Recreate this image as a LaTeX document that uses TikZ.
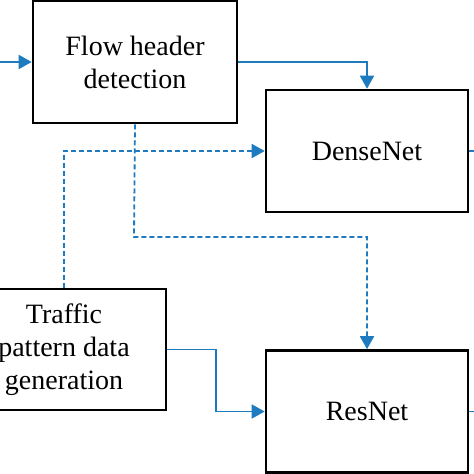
\documentclass[tikz,border=0pt]{standalone}
\usepackage{fontspec}
\setmainfont{Liberation Serif}
\newfontfamily\timesfont{Liberation Serif}
\usetikzlibrary{arrows.meta}
\definecolor{lblue}{HTML}{1F7BC0}
\tikzset{
  blockbox/.style={draw=black, line width=2.6pt, fill=white, align=center,
    font=\timesfont\fontsize{28}{33}\selectfont, inner sep=0pt},
  flowline/.style={draw=lblue, line width=1.8pt, -{Triangle[length=13pt,width=14pt]}},
  plainline/.style={draw=lblue, line width=1.8pt},
  dashline/.style={flowline, dash pattern=on 5pt off 3pt},
}
\begin{document}
\begin{tikzpicture}[x=1pt,y=-1pt]
\useasboundingbox (0,0) rectangle (474,474);
\clip (0,0) rectangle (474,474);
\node[blockbox, minimum width=204pt, minimum height=122pt] (flow) at (135,62) {Flow header\\detection};
\node[blockbox, minimum width=202pt, minimum height=122pt] (dense) at (367,151) {DenseNet};
\node[blockbox, minimum width=204pt, minimum height=121pt] (traffic) at (64,349.5) {Traffic\\pattern data\\generation};
\node[blockbox, minimum width=202pt, minimum height=122pt] (res) at (367,411.5) {ResNet};
\coordinate (in) at (0,62);
\coordinate (dout) at (474,151);
\coordinate (rout) at (474,411.5);
\coordinate (mid) at (134,237);
\coordinate (bend) at (216,349.5);
\draw[flowline] (in) -- (flow.west);
\draw[flowline] (flow.east) -| (dense.north);
\draw[plainline] (dense.east) -- (dout);
\draw[plainline] (res.east) -- (rout);
\draw[dashline] (flow.south) -- (mid) -| (res.north);
\draw[dashline] (traffic.north) |- (dense.west);
\draw[flowline] (traffic.east) -- (bend) |- (res.west);
\end{tikzpicture}
\end{document}
